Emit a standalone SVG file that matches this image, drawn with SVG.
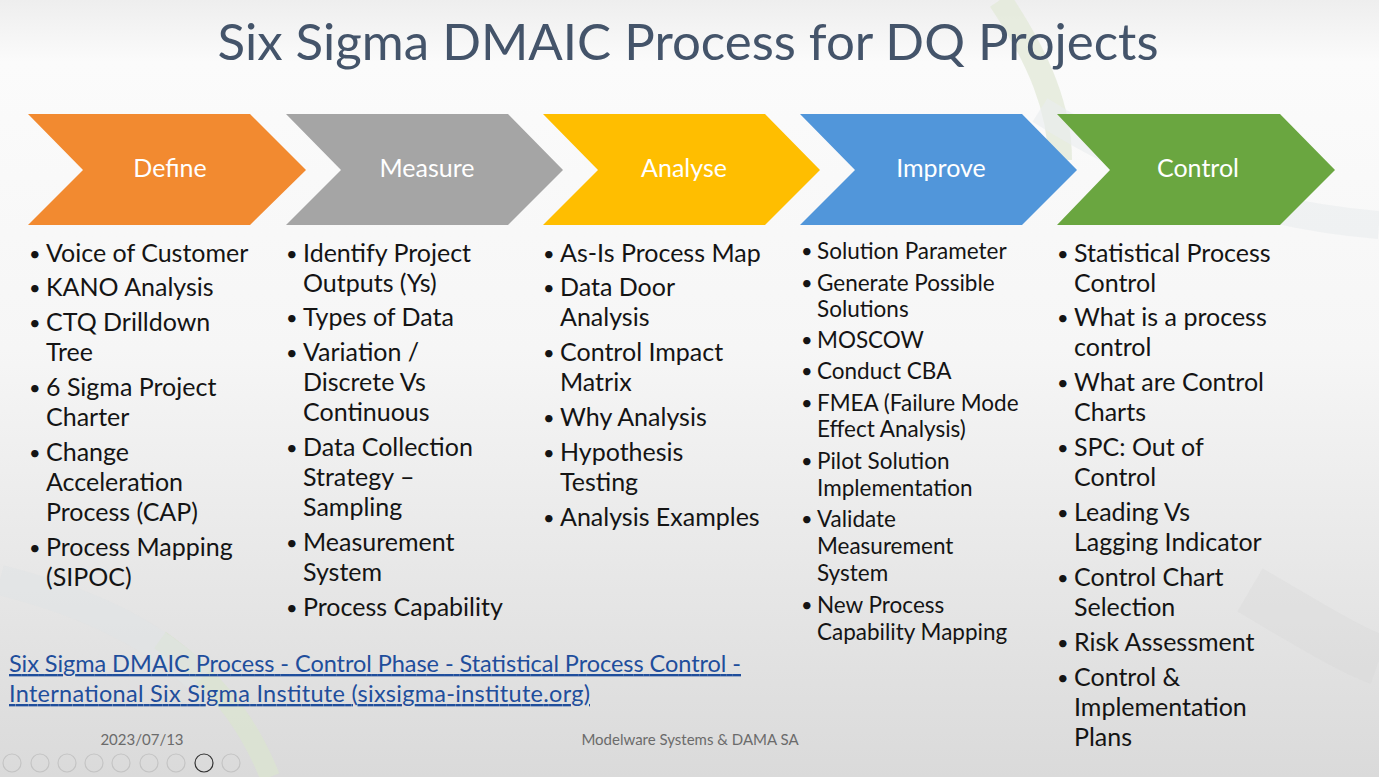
<svg xmlns="http://www.w3.org/2000/svg" width="1379" height="777" viewBox="0 0 1379 777">
<defs>
<linearGradient id="bg" x1="0" y1="0" x2="0" y2="1">
<stop offset="0" stop-color="#eeeeee"/>
<stop offset="0.08" stop-color="#fbfbfb"/>
<stop offset="0.45" stop-color="#f6f6f6"/>
<stop offset="0.8" stop-color="#e4e4e4"/>
<stop offset="1" stop-color="#dadada"/>
</linearGradient>
<style>
.title{font-family:"Lato","Open Sans",sans-serif;font-size:51px;fill:#44546a;text-anchor:middle}
.lab{font-family:"Lato","Open Sans",sans-serif;font-size:25px;fill:#ffffff;text-anchor:middle}
.b{font-family:"Lato","Open Sans",sans-serif;font-size:25px;fill:#141414}
.s{font-family:"Lato","Open Sans",sans-serif;font-size:22.5px;fill:#141414}
.d{font-family:"Lato","Open Sans",sans-serif;font-size:20px;fill:#141414}
.lnk{font-family:"Lato","Open Sans",sans-serif;font-size:23.5px;fill:#1f4e9c;text-decoration:underline}
.ft{font-family:"Lato","Open Sans",sans-serif;font-size:15px;fill:#6b6b6b}
.ic{fill:none;stroke:#c4c4c4;stroke-width:1.2}
</style>
</defs>
<rect width="1379" height="777" fill="url(#bg)"/>
<!-- decorative swooshes -->
<g fill="none">
<path d="M1000,0 C1040,60 1060,110 1060,160" stroke="#e3ead9" stroke-width="24" opacity="0.8"/>
<path d="M1040,110 C1150,180 1260,215 1379,225" stroke="#e9ecef" stroke-width="28" opacity="0.6"/>
<path d="M1250,590 C1310,625 1350,650 1379,660" stroke="#d4d4d4" stroke-width="50" opacity="0.25"/>
<path d="M160,640 C230,690 255,740 270,777" stroke="#dbe4d1" stroke-width="20" opacity="0.8"/>
<path d="M0,580 C80,600 150,630 200,680" stroke="#dfe3e6" stroke-width="30" opacity="0.5"/>
</g>
<text class="title" x="688" y="60">Six Sigma DMAIC Process for DQ Projects</text>
<g id="define">
<polygon points="28,114 250,114 306,170 250,225 28,225 83,170" fill="#f28a30"/>
<text class="lab" x="170" y="177">Define</text>
</g>
<g id="measure">
<polygon points="286,114 508,114 563,170 508,225 286,225 341,170" fill="#a5a5a5"/>
<text class="lab" x="427" y="177">Measure</text>
</g>
<g id="analyse">
<polygon points="543,114 765,114 820,170 765,225 543,225 598,170" fill="#ffbe00"/>
<text class="lab" x="684" y="177">Analyse</text>
</g>
<g id="improve">
<polygon points="800,114 1022,114 1077,170 1022,225 800,225 855,170" fill="#5196da"/>
<text class="lab" x="941" y="177">Improve</text>
</g>
<g id="control">
<polygon points="1057,114 1280,114 1335,170 1280,225 1057,225 1110,170" fill="#6aa640"/>
<text class="lab" x="1198" y="177">Control</text>
</g>
<g id="define-list">
<text class="d" x="29" y="261">•</text><text class="b" x="46" y="262">Voice of Customer</text>
<text class="d" x="29" y="295">•</text><text class="b" x="46" y="296">KANO Analysis</text>
<text class="d" x="29" y="330">•</text><text class="b" x="46" y="331">CTQ Drilldown</text>
<text class="b" x="46" y="361">Tree</text>
<text class="d" x="29" y="395">•</text><text class="b" x="46" y="396">6 Sigma Project</text>
<text class="b" x="46" y="426">Charter</text>
<text class="d" x="29" y="460">•</text><text class="b" x="46" y="461">Change</text>
<text class="b" x="46" y="491">Acceleration</text>
<text class="b" x="46" y="521">Process (CAP)</text>
<text class="d" x="29" y="555">•</text><text class="b" x="46" y="556">Process Mapping</text>
<text class="b" x="46" y="586">(SIPOC)</text>
</g>
<g id="measure-list">
<text class="d" x="286" y="261">•</text><text class="b" x="303" y="262">Identify Project</text>
<text class="b" x="303" y="292">Outputs (Ys)</text>
<text class="d" x="286" y="325">•</text><text class="b" x="303" y="326">Types of Data</text>
<text class="d" x="286" y="360">•</text><text class="b" x="303" y="361">Variation /</text>
<text class="b" x="303" y="391">Discrete Vs</text>
<text class="b" x="303" y="421">Continuous</text>
<text class="d" x="286" y="455">•</text><text class="b" x="303" y="456">Data Collection</text>
<text class="b" x="303" y="486">Strategy –</text>
<text class="b" x="303" y="516">Sampling</text>
<text class="d" x="286" y="550">•</text><text class="b" x="303" y="551">Measurement</text>
<text class="b" x="303" y="581">System</text>
<text class="d" x="286" y="615">•</text><text class="b" x="303" y="616">Process Capability</text>
</g>
<g id="analyse-list">
<text class="d" x="543" y="261">•</text><text class="b" x="560" y="262">As-Is Process Map</text>
<text class="d" x="543" y="295">•</text><text class="b" x="560" y="296">Data Door</text>
<text class="b" x="560" y="326">Analysis</text>
<text class="d" x="543" y="360">•</text><text class="b" x="560" y="361">Control Impact</text>
<text class="b" x="560" y="391">Matrix</text>
<text class="d" x="543" y="425">•</text><text class="b" x="560" y="426">Why Analysis</text>
<text class="d" x="543" y="460">•</text><text class="b" x="560" y="461">Hypothesis</text>
<text class="b" x="560" y="491">Testing</text>
<text class="d" x="543" y="525">•</text><text class="b" x="560" y="526">Analysis Examples</text>
</g>
<g id="improve-list">
<text class="d" x="801" y="258">•</text><text class="s" x="817" y="259">Solution Parameter</text>
<text class="d" x="801" y="290">•</text><text class="s" x="817" y="291">Generate Possible</text>
<text class="s" x="817" y="317">Solutions</text>
<text class="d" x="801" y="347">•</text><text class="s" x="817" y="348">MOSCOW</text>
<text class="d" x="801" y="378">•</text><text class="s" x="817" y="379">Conduct CBA</text>
<text class="d" x="801" y="410">•</text><text class="s" x="817" y="411">FMEA (Failure Mode</text>
<text class="s" x="817" y="437">Effect Analysis)</text>
<text class="d" x="801" y="468">•</text><text class="s" x="817" y="469">Pilot Solution</text>
<text class="s" x="817" y="496">Implementation</text>
<text class="d" x="801" y="526">•</text><text class="s" x="817" y="527">Validate</text>
<text class="s" x="817" y="554">Measurement</text>
<text class="s" x="817" y="581">System</text>
<text class="d" x="801" y="612">•</text><text class="s" x="817" y="613">New Process</text>
<text class="s" x="817" y="640">Capability Mapping</text>
</g>
<g id="control-list">
<text class="d" x="1057" y="261">•</text><text class="b" x="1074" y="262">Statistical Process</text>
<text class="b" x="1074" y="292">Control</text>
<text class="d" x="1057" y="325">•</text><text class="b" x="1074" y="326">What is a process</text>
<text class="b" x="1074" y="356">control</text>
<text class="d" x="1057" y="390">•</text><text class="b" x="1074" y="391">What are Control</text>
<text class="b" x="1074" y="421">Charts</text>
<text class="d" x="1057" y="455">•</text><text class="b" x="1074" y="456">SPC: Out of</text>
<text class="b" x="1074" y="486">Control</text>
<text class="d" x="1057" y="520">•</text><text class="b" x="1074" y="521">Leading Vs</text>
<text class="b" x="1074" y="551">Lagging Indicator</text>
<text class="d" x="1057" y="585">•</text><text class="b" x="1074" y="586">Control Chart</text>
<text class="b" x="1074" y="616">Selection</text>
<text class="d" x="1057" y="650">•</text><text class="b" x="1074" y="651">Risk Assessment</text>
<text class="d" x="1057" y="685">•</text><text class="b" x="1074" y="686">Control &amp;</text>
<text class="b" x="1074" y="716">Implementation</text>
<text class="b" x="1074" y="746">Plans</text>
</g>
<g id="link">
<text class="lnk" x="9" y="672" textLength="732" lengthAdjust="spacing">Six Sigma DMAIC Process - Control Phase - Statistical Process Control -</text>
<text class="lnk" x="9" y="702" textLength="581" lengthAdjust="spacing">International Six Sigma Institute (sixsigma-institute.org)</text>
</g>
<text class="ft" x="142" y="745" text-anchor="middle">2023/07/13</text>
<text class="ft" x="690" y="745" text-anchor="middle">Modelware Systems &amp; DAMA SA</text>
<g id="toolbar">
<circle class="ic" cx="12" cy="763" r="9"/>
<circle class="ic" cx="40" cy="763" r="9"/>
<circle class="ic" cx="67" cy="763" r="9"/>
<circle class="ic" cx="94" cy="763" r="9"/>
<circle class="ic" cx="121" cy="763" r="9"/>
<circle class="ic" cx="149" cy="763" r="9"/>
<circle class="ic" cx="176" cy="763" r="9"/>
<circle cx="204" cy="763" r="9" fill="none" stroke="#333" stroke-width="1.2"/>
<circle class="ic" cx="231" cy="763" r="9"/>
</g>
</svg>
